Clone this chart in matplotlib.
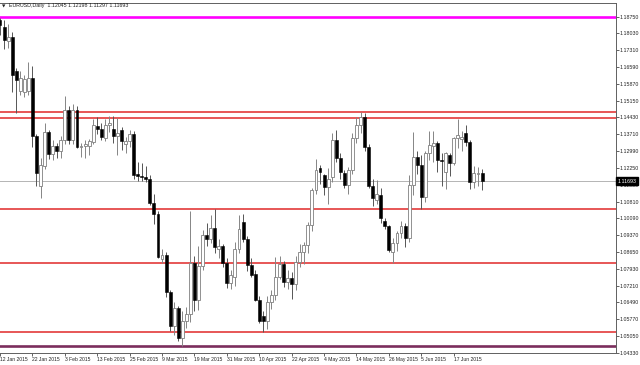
import numpy as np
import pandas as pd
import matplotlib
matplotlib.use("Agg")
import matplotlib.pyplot as plt
import matplotlib.transforms as mtransforms

plt.rcParams['font.family'] = ['Liberation Sans', 'DejaVu Sans']

# daily bars, 12 Jan 2015 .. 26 Jun 2015
dates = pd.bdate_range("2015-01-12", "2015-06-26")

opens = [1.1862, 1.1832, 1.1772, 1.1788, 1.1642, 1.1555, 1.1552, 1.1555, 1.1612, 1.1365,
         1.1148, 1.1235, 1.1380, 1.1285, 1.1320, 1.1298, 1.1345, 1.1475, 1.1345, 1.1475,
         1.1316, 1.1322, 1.1320, 1.1338, 1.1408, 1.1395, 1.1355, 1.1410, 1.1392, 1.1365,
         1.1390, 1.1330, 1.1340, 1.1370, 1.1200, 1.1190, 1.1185, 1.1180, 1.1075, 1.1030,
         1.0835, 1.0852, 1.0695, 1.0548, 1.0625, 1.0495, 1.0570, 1.0600, 1.0820, 1.0660,
         1.0805, 1.0940, 1.0920, 1.0970, 1.0880, 1.0890, 1.0820, 1.0730, 1.0760, 1.0880,
         1.0995, 1.0923, 1.0810, 1.0770, 1.0660, 1.0590, 1.0570, 1.0652, 1.0681, 1.0760,
         1.0815, 1.0738, 1.0752, 1.0728, 1.0824, 1.0867, 1.0896, 1.0980, 1.1130, 1.1224,
         1.1195, 1.1145, 1.1185, 1.1345, 1.1268, 1.1205, 1.1153, 1.1215, 1.1353, 1.1410,
         1.1445, 1.1317, 1.1150, 1.1090, 1.1110, 1.1000, 1.0975, 1.0867, 1.0903, 1.0946,
         1.0977, 1.0924, 1.1153, 1.1274, 1.1239, 1.1100, 1.1289, 1.1320, 1.1335, 1.1262,
         1.1210, 1.1282, 1.1246, 1.1353, 1.1350, 1.1375, 1.1339, 1.1167, 1.1200, 1.12045]
highs = [1.1870, 1.1860, 1.1845, 1.1810, 1.1655, 1.1640, 1.1625, 1.1680, 1.1662, 1.1372,
         1.1268, 1.1420, 1.1390, 1.1345, 1.1335, 1.1365, 1.1534, 1.1490, 1.1500, 1.1490,
         1.1335, 1.1345, 1.1350, 1.1435, 1.1445, 1.1420, 1.1435, 1.1450, 1.1450, 1.1440,
         1.1400, 1.1360, 1.1390, 1.1385, 1.1250, 1.1245, 1.1235, 1.1195, 1.1115, 1.1040,
         1.0880, 1.0865, 1.0700, 1.0650, 1.0635, 1.0610, 1.0630, 1.1043, 1.0850, 1.0890,
         1.0960, 1.0990, 1.1025, 1.1050, 1.0920, 1.0900, 1.0840, 1.0790, 1.0910, 1.1025,
         1.1030, 1.0935, 1.0840, 1.0790, 1.0675, 1.0610, 1.0675, 1.0700, 1.0845, 1.0850,
         1.0825, 1.0790, 1.0780, 1.0850, 1.0900, 1.0910, 1.0995, 1.1140, 1.1265, 1.1240,
         1.1200, 1.1225, 1.1375, 1.1390, 1.1290, 1.1215, 1.1230, 1.1375, 1.1445, 1.1467,
         1.1460, 1.1330, 1.1180, 1.1175, 1.1140, 1.1010, 1.0980, 1.0925, 1.0955, 1.1000,
         1.0990, 1.1195, 1.1380, 1.1300, 1.1280, 1.1300, 1.1385, 1.1385, 1.1340, 1.1290,
         1.1295, 1.1290, 1.1360, 1.1436, 1.1385, 1.1410, 1.1345, 1.1235, 1.1230, 1.12198]
lows = [1.1795, 1.1735, 1.1740, 1.1550, 1.1460, 1.1540, 1.1530, 1.1540, 1.1315, 1.1150,
        1.1098, 1.1220, 1.1265, 1.1262, 1.1270, 1.1270, 1.1330, 1.1330, 1.1330, 1.1310,
        1.1275, 1.1270, 1.1280, 1.1330, 1.1370, 1.1345, 1.1340, 1.1380, 1.1333, 1.1280,
        1.1305, 1.1290, 1.1315, 1.1180, 1.1170, 1.1170, 1.1165, 1.1065, 1.0985, 1.0840,
        1.0820, 1.0672, 1.0525, 1.0510, 1.0485, 1.0463, 1.0540, 1.0565, 1.0613, 1.0615,
        1.0790, 1.0890, 1.0905, 1.0860, 1.0840, 1.0800, 1.0710, 1.0705, 1.0720, 1.0860,
        1.0910, 1.0785, 1.0760, 1.0655, 1.0560, 1.0520, 1.0535, 1.0620, 1.0660, 1.0750,
        1.0715, 1.0705, 1.0665, 1.0700, 1.0800, 1.0815, 1.0860, 1.0955, 1.1115, 1.1155,
        1.1110, 1.1070, 1.1165, 1.1250, 1.1180, 1.1140, 1.1115, 1.1200, 1.1335, 1.1375,
        1.1300, 1.1140, 1.1063, 1.1070, 1.0990, 1.0965, 1.0865, 1.0819, 1.0870, 1.0925,
        1.0885, 1.0910, 1.1110, 1.1200, 1.1048, 1.1080, 1.1260, 1.1250, 1.1210, 1.1150,
        1.1135, 1.1190, 1.1240, 1.1310, 1.1300, 1.1320, 1.1135, 1.1140, 1.1150, 1.11297]
closes = [1.1838, 1.1775, 1.1788, 1.1625, 1.1602, 1.1610, 1.1608, 1.1612, 1.1365, 1.1205,
          1.1240, 1.1380, 1.1285, 1.1320, 1.1298, 1.1345, 1.1475, 1.1345, 1.1475, 1.1316,
          1.1322, 1.1328, 1.1340, 1.1410, 1.1395, 1.1360, 1.1410, 1.1418, 1.1365, 1.1375,
          1.1340, 1.1340, 1.1370, 1.1195, 1.1190, 1.1185, 1.1180, 1.1075, 1.1030, 1.0845,
          1.0852, 1.0695, 1.0548, 1.0625, 1.0495, 1.0570, 1.0600, 1.0820, 1.0660, 1.0805,
          1.0940, 1.0920, 1.0970, 1.0885, 1.0890, 1.0820, 1.0730, 1.0765, 1.0880, 1.0965,
          1.0923, 1.0810, 1.0767, 1.0660, 1.0570, 1.0570, 1.0652, 1.0681, 1.0760, 1.0815,
          1.0738, 1.0752, 1.0728, 1.0824, 1.0867, 1.0896, 1.0980, 1.1130, 1.1217, 1.1210,
          1.1145, 1.1180, 1.1345, 1.1268, 1.1210, 1.1153, 1.1217, 1.1353, 1.1410, 1.1445,
          1.1317, 1.1150, 1.1095, 1.1112, 1.1010, 1.0975, 1.0874, 1.0903, 1.0946, 1.0977,
          1.0924, 1.1153, 1.1274, 1.1239, 1.1100, 1.1289, 1.1325, 1.1335, 1.1260, 1.1255,
          1.1289, 1.1246, 1.1353, 1.1367, 1.1360, 1.1339, 1.1167, 1.1203, 1.1205, 1.11693]

# horizontal levels drawn on the chart
magenta_level = 1.1875
red_levels = [1.1465, 1.1440, 1.1051, 1.0819, 1.0520]
purple_level = 1.0463
last_price = 1.11693

price_ticks = [1.18750, 1.18030, 1.17310, 1.16590, 1.15870, 1.15150, 1.14430,
               1.13710, 1.12990, 1.12250, 1.11530, 1.10810, 1.10090, 1.09370,
               1.08650, 1.07930, 1.07210, 1.06490, 1.05770, 1.05050, 1.04330]

o = np.array(opens)
h = np.array(highs)
l = np.array(lows)
c = np.array(closes)
x = np.arange(len(dates))
up = c >= o

fig = plt.figure(figsize=(6.4, 3.65), dpi=100)
ax = fig.add_axes([0, 12 / 365, 615.7 / 640, 350.3 / 365])

# wicks
ax.vlines(x[up], l[up], h[up], color='#858585', lw=0.7, zorder=3)
ax.vlines(x[~up], l[~up], h[~up], color='#555555', lw=0.7, zorder=3)
# bodies
body = np.maximum(np.abs(c - o), 0.00008)
ax.bar(x[up], body[up], bottom=np.minimum(o, c)[up], width=0.72,
       color='white', edgecolor='#808080', lw=0.6, zorder=4)
ax.bar(x[~up], body[~up], bottom=np.minimum(o, c)[~up], width=0.72,
       color='black', edgecolor='black', lw=0.4, zorder=4)

# levels
ax.axhline(magenta_level, color='#ff00ff', lw=1.9, zorder=2)
for lv in red_levels:
    ax.axhline(lv, color='#e02828', lw=1.1, zorder=2)
ax.axhline(purple_level, color='#7b2d5c', lw=1.9, zorder=2)
ax.axhline(last_price, color='#b4b4b4', lw=0.7, zorder=1)

ax.set_xlim(0.335, 151.99)
ax.set_ylim(1.04317, 1.19351)

# axes styling
for s in ax.spines.values():
    s.set_color('#606060')
    s.set_linewidth(0.7)
ax.spines['left'].set_visible(False)

ax.yaxis.tick_right()
ax.set_yticks(price_ticks, [f"{v:.5f}" for v in price_ticks])
ax.tick_params(axis='y', length=2, width=0.5, pad=1, labelsize=3.8,
               colors='#222222')

xt = x[::8]
ax.set_xticks(xt, [f"{d.day} {d.strftime('%b %Y')}" for d in dates[::8]])
ax.tick_params(axis='x', length=2, width=0.5, pad=1, labelsize=3.6,
               colors='#222222')
for lbl in ax.get_xticklabels():
    lbl.set_horizontalalignment('left')

# current price box
trans = mtransforms.blended_transform_factory(ax.transAxes, ax.transData)
ax.text(1.003, last_price, f"{last_price:.5f}", transform=trans, ha='left',
        va='center', fontsize=3.8, color='white', zorder=10, clip_on=False,
        bbox=dict(boxstyle='square,pad=0.25', fc='black', ec='black'))

# header
fig.text(2 / 640, 1 - 6 / 365, "\u25bc", fontsize=3.2, color='#222222',
         va='center', family=['DejaVu Sans'])
fig.text(9 / 640, 1 - 6 / 365, "EURUSD,Daily  1.12045 1.12198 1.11297 1.11693",
         fontsize=3.8, color='#222222', va='center')

fig.savefig("out.png", dpi=100)
